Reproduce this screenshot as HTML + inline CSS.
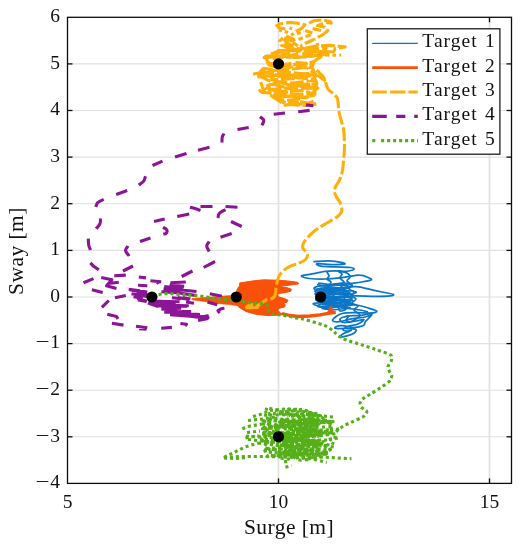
<!DOCTYPE html>
<html><head><meta charset="utf-8"><title>Targets</title>
<style>
html,body{margin:0;padding:0;background:#fff;}
svg{display:block}
text{font-family:"Liberation Serif",serif;fill:#111;}
.tk{font-size:19.5px}
.lb{font-size:21.5px;letter-spacing:0.45px}
.lg{font-size:19.5px;letter-spacing:1.05px;word-spacing:1.3px}
</style></head><body>
<svg width="520" height="550" viewBox="0 0 520 550">
<rect width="520" height="550" fill="#fff"/>

<g stroke="#e1e1e1" stroke-width="1.1" fill="none">
<line x1="278.5" y1="17.3" x2="278.5" y2="483.4" stroke-width="1.7"/>
<line x1="489.5" y1="17.3" x2="489.5" y2="483.4" stroke-width="1.7"/>
<line x1="67.5" y1="436.8" x2="511.5" y2="436.8"/>
<line x1="67.5" y1="390.2" x2="511.5" y2="390.2"/>
<line x1="67.5" y1="343.6" x2="511.5" y2="343.6"/>
<line x1="67.5" y1="297.0" x2="511.5" y2="297.0"/>
<line x1="67.5" y1="250.4" x2="511.5" y2="250.4"/>
<line x1="67.5" y1="203.7" x2="511.5" y2="203.7"/>
<line x1="67.5" y1="157.1" x2="511.5" y2="157.1"/>
<line x1="67.5" y1="110.5" x2="511.5" y2="110.5"/>
<line x1="67.5" y1="63.9" x2="511.5" y2="63.9"/>
</g>
<g fill="none" stroke-linejoin="round">
<path d="M313.4,261.7 C316.0,261.6 324.0,260.6 328.8,260.8 C333.6,261.0 339.6,262.1 342.2,262.7 C344.8,263.3 345.8,263.9 344.2,264.2 C342.6,264.5 337.1,264.7 332.6,264.6 C328.1,264.5 319.1,263.4 317.2,263.7 C315.3,264.0 317.8,265.7 321.0,266.2 C324.2,266.7 331.5,266.7 336.5,266.9 C341.5,267.1 348.0,267.1 350.9,267.5 C353.8,267.9 354.6,268.8 353.8,269.4 C353.0,270.0 349.2,271.1 346.0,271.3 C342.8,271.5 338.0,270.8 334.5,270.8 C331.0,270.8 328.2,270.9 325.0,271.3 C321.8,271.7 318.8,272.7 315.3,273.3 C311.8,273.9 306.1,274.7 303.8,275.2 C301.6,275.7 300.9,275.9 301.8,276.5 C302.8,277.1 305.6,278.1 309.5,278.5 C313.4,278.9 319.6,279.1 325.0,279.0 C330.4,278.9 336.4,278.3 342.2,277.7 C347.9,277.1 355.0,275.1 359.5,275.2 C364.0,275.2 367.3,277.2 369.2,278.0 C371.1,278.8 372.3,279.3 371.0,280.0 C369.7,280.7 365.3,281.4 361.5,282.0 C357.7,282.6 352.2,283.2 348.0,283.8 C343.8,284.4 341.0,285.1 336.5,285.4 C332.0,285.7 324.7,285.4 321.0,285.8 C317.3,286.2 314.9,287.1 314.3,287.7 C313.7,288.3 313.8,289.5 317.2,289.6 C320.6,289.7 328.6,289.0 335.0,288.5 C341.4,288.0 349.7,286.5 355.7,286.7 C361.7,286.9 366.2,288.6 371.0,289.6 C375.8,290.6 380.8,291.7 384.5,292.5 C388.2,293.3 392.2,293.8 393.2,294.4 C394.2,294.9 393.3,295.5 390.3,295.8 C387.3,296.1 380.8,296.3 375.0,296.3 C369.2,296.3 361.5,295.7 355.7,295.8 C349.9,295.9 345.1,297.0 340.0,297.0 C334.9,297.0 329.0,295.8 325.0,296.0 C321.0,296.2 316.8,297.2 316.0,298.0 C315.2,298.8 316.8,300.2 320.0,300.5 C323.2,300.8 329.7,299.6 335.0,299.5 C340.3,299.4 350.3,299.6 352.0,300.0 C353.7,300.4 349.0,301.6 345.0,302.0 C341.0,302.4 333.3,302.2 328.0,302.5 C322.7,302.8 314.6,302.9 313.4,303.5 C312.2,304.1 317.1,306.0 321.0,306.3 C324.9,306.6 330.7,305.6 336.5,305.4 C342.3,305.2 350.2,304.5 355.7,305.0 C361.1,305.5 365.7,307.3 369.2,308.3 C372.7,309.3 376.5,310.4 376.8,311.2 C377.1,312.0 374.5,312.8 371.0,313.0 C367.5,313.2 360.5,312.6 355.7,312.7 C350.9,312.8 345.6,312.8 342.2,313.5 C338.8,314.2 337.1,315.8 335.5,317.0 C333.9,318.2 332.0,320.0 332.6,320.8 C333.2,321.6 336.1,322.0 339.3,321.7 C342.5,321.4 347.5,319.6 351.8,318.8 C356.1,318.0 361.9,317.8 365.3,317.0 C368.7,316.2 371.6,313.7 372.0,314.0 C372.4,314.3 369.1,317.7 368.0,319.0 C366.9,320.3 366.1,320.6 365.3,321.7 C364.5,322.8 365.3,324.6 363.4,325.6 C361.5,326.6 357.3,327.5 353.8,327.5 C350.3,327.5 345.1,325.8 342.2,325.6 C339.3,325.4 337.6,326.0 336.5,326.5 C335.4,327.0 333.9,328.2 335.5,328.5 C337.1,328.8 342.6,328.4 346.0,328.5 C349.4,328.6 354.4,328.6 355.7,329.4 C357.0,330.2 355.4,332.2 353.8,333.3 C352.2,334.4 348.4,335.6 346.0,336.2 C343.6,336.8 339.6,337.6 339.3,337.1 C339.0,336.6 342.1,334.5 344.2,333.3 C346.3,332.1 350.7,330.6 352.0,330.0" stroke="#0A76C8" stroke-width="1.75"/>
<path d="M327.0,272.0 C327.3,272.7 329.0,274.8 329.0,276.0 C329.0,277.2 326.7,278.0 327.0,279.0 C327.3,280.0 330.7,280.8 331.0,282.0 C331.3,283.2 328.7,284.8 329.0,286.0 C329.3,287.2 332.8,288.0 333.0,289.0 C333.2,290.0 329.8,291.0 330.0,292.0 C330.2,293.0 333.8,294.0 334.0,295.0 C334.2,296.0 330.7,297.0 331.0,298.0 C331.3,299.0 335.7,300.0 336.0,301.0 C336.3,302.0 332.7,303.0 333.0,304.0 C333.3,305.0 336.8,305.8 338.0,307.0 C339.2,308.2 338.7,310.7 340.0,311.0 C341.3,311.3 345.5,310.0 346.0,309.0 C346.5,308.0 342.7,306.2 343.0,305.0 C343.3,303.8 347.8,303.2 348.0,302.0 C348.2,300.8 343.8,299.3 344.0,298.0 C344.2,296.7 348.8,295.3 349.0,294.0 C349.2,292.7 346.3,291.3 345.0,290.0 C343.7,288.7 341.2,287.3 341.0,286.0 C340.8,284.7 344.2,283.3 344.0,282.0 C343.8,280.7 340.3,279.3 340.0,278.0 C339.7,276.7 342.3,275.2 342.0,274.0 C341.7,272.8 337.2,271.2 338.0,271.0 C338.8,270.8 345.0,272.0 347.0,273.0 C349.0,274.0 350.0,275.7 350.0,277.0 C350.0,278.3 346.7,279.7 347.0,281.0 C347.3,282.3 351.7,283.7 352.0,285.0 C352.3,286.3 348.7,287.8 349.0,289.0 C349.3,290.2 353.7,290.8 354.0,292.0 C354.3,293.2 350.7,294.8 351.0,296.0 C351.3,297.2 355.8,297.8 356.0,299.0 C356.2,300.2 351.7,301.8 352.0,303.0 C352.3,304.2 357.7,304.8 358.0,306.0 C358.3,307.2 353.7,308.5 354.0,310.0 C354.3,311.5 359.7,313.5 360.0,315.0 C360.3,316.5 357.7,317.8 356.0,319.0 C354.3,320.2 351.7,321.8 350.0,322.0 C348.3,322.2 346.2,321.0 346.0,320.0 C345.8,319.0 349.3,316.5 349.0,316.0 C348.7,315.5 344.8,316.8 344.0,317.0" stroke="#0A76C8" stroke-width="1.75"/>
<path d="M316.0,292.0 C317.0,292.2 319.7,293.4 322.0,293.5 C324.3,293.6 327.0,292.4 330.0,292.5 C333.0,292.6 336.7,293.9 340.0,294.0 C343.3,294.1 349.7,293.5 350.0,293.0 C350.3,292.5 345.3,291.4 342.0,291.0 C338.7,290.6 333.7,290.5 330.0,290.5 C326.3,290.5 322.5,290.4 320.0,291.0 C317.5,291.6 314.7,293.2 315.0,294.0 C315.3,294.8 318.8,295.4 322.0,295.5 C325.2,295.6 330.0,294.4 334.0,294.5 C338.0,294.6 345.3,295.4 346.0,296.0 C346.7,296.6 341.3,297.8 338.0,298.0 C334.7,298.2 329.3,297.3 326.0,297.5 C322.7,297.7 318.3,298.4 318.0,299.0 C317.7,299.6 321.3,300.8 324.0,301.0 C326.7,301.2 330.7,299.9 334.0,300.0 C337.3,300.1 343.0,300.9 344.0,301.5 C345.0,302.1 342.3,303.2 340.0,303.5 C337.7,303.8 333.0,302.8 330.0,303.0 C327.0,303.2 323.3,304.2 322.0,304.5" stroke="#0A76C8" stroke-width="1.75"/>
<path d="M318.0,283.0 C320.0,283.2 325.5,284.5 330.0,284.5 C334.5,284.5 341.3,282.8 345.0,283.0 C348.7,283.2 352.8,285.2 352.0,286.0 C351.2,286.8 344.3,287.8 340.0,288.0 C335.7,288.2 330.0,287.2 326.0,287.5 C322.0,287.8 315.7,289.3 316.0,290.0 C316.3,290.7 323.5,291.4 328.0,291.5 C332.5,291.6 338.3,290.4 343.0,290.5 C347.7,290.6 355.0,291.3 356.0,292.0 C357.0,292.7 352.8,294.2 349.0,294.5 C345.2,294.8 338.0,293.4 333.0,293.5 C328.0,293.6 319.7,294.3 319.0,295.0 C318.3,295.7 325.2,297.2 329.0,297.5 C332.8,297.8 338.2,296.3 342.0,296.5 C345.8,296.7 351.8,297.8 352.0,298.5 C352.2,299.2 346.7,300.2 343.0,300.5 C339.3,300.8 334.0,299.8 330.0,300.0 C326.0,300.2 318.8,301.4 319.0,302.0 C319.2,302.6 326.7,303.4 331.0,303.5 C335.3,303.6 341.3,302.3 345.0,302.5 C348.7,302.7 353.5,303.8 353.0,304.5 C352.5,305.2 345.8,306.2 342.0,306.5 C338.2,306.8 333.3,305.8 330.0,306.0 C326.7,306.2 321.3,307.4 322.0,308.0 C322.7,308.6 329.7,309.4 334.0,309.5 C338.3,309.6 343.7,308.4 348.0,308.5 C352.3,308.6 356.7,309.4 360.0,310.0 C363.3,310.6 366.7,311.7 368.0,312.0" stroke="#0A76C8" stroke-width="1.75"/>
<path d="M372.0,313.0 C370.0,313.4 364.0,315.0 360.0,315.5 C356.0,316.0 351.3,315.4 348.0,316.0 C344.7,316.6 340.7,317.9 340.0,319.0 C339.3,320.1 341.3,322.2 344.0,322.5 C346.7,322.8 352.7,321.5 356.0,321.0 C359.3,320.5 363.7,319.0 364.0,319.5 C364.3,320.0 360.7,322.8 358.0,324.0 C355.3,325.2 350.5,325.5 348.0,326.5 C345.5,327.5 342.7,329.2 343.0,330.0 C343.3,330.8 348.8,331.2 350.0,331.5" stroke="#0A76C8" stroke-width="1.75"/>
<path d="M317.0,284.5 C318.5,284.8 322.5,285.9 326.0,286.0 C329.5,286.1 334.0,284.9 338.0,285.0 C342.0,285.1 349.0,285.8 350.0,286.5 C351.0,287.2 347.0,288.5 344.0,289.0 C341.0,289.5 336.0,289.6 332.0,289.5 C328.0,289.4 322.8,288.2 320.0,288.5 C317.2,288.8 314.3,290.8 315.0,291.5 C315.7,292.2 320.3,292.9 324.0,293.0 C327.7,293.1 333.0,291.9 337.0,292.0 C341.0,292.1 345.3,292.8 348.0,293.5 C350.7,294.2 354.0,295.3 353.0,296.0 C352.0,296.7 345.8,297.1 342.0,297.5 C338.2,297.9 333.7,298.6 330.0,298.5 C326.3,298.4 322.3,296.8 320.0,297.0 C317.7,297.2 315.0,299.2 316.0,300.0 C317.0,300.8 322.2,301.4 326.0,301.5 C329.8,301.6 335.0,300.4 339.0,300.5 C343.0,300.6 348.8,301.3 350.0,302.0 C351.2,302.7 348.7,304.0 346.0,304.5 C343.3,305.0 338.0,305.1 334.0,305.0 C330.0,304.9 324.7,303.8 322.0,304.0 C319.3,304.2 317.0,305.9 318.0,306.5 C319.0,307.1 324.3,307.4 328.0,307.5 C331.7,307.6 336.2,306.9 340.0,307.0 C343.8,307.1 349.2,307.8 351.0,308.0" stroke="#0A76C8" stroke-width="1.75"/>
<path d="M335.8,312.4 L328.0,313.4 L320.0,314.8 L310.0,316.0 L298.0,316.5 L290.0,315.5 L282.0,313.5" stroke="#F9500A" stroke-width="3.3"/>
<path d="M327.3,313.2 L330.9,306.6 L333.8,312.6Z" fill="#F9500A" stroke="#F9500A" stroke-width="1.2"/>
<path d="M236.5,297.0 L236.8,290.6 L237.5,288.5 L239.6,285.8 L239.6,283.0 L252.8,280.9 L263.8,279.8 L277.7,280.2 L287.4,280.9 L297.8,282.3 L298.5,284.0 L290.2,285.1 L279.0,286.2 L287.4,287.8 L291.3,289.2 L290.8,291.3 L284.6,292.7 L279.1,293.4 L277.5,295.0 L278.4,296.8 L284.6,298.6 L288.1,300.3 L286.7,302.4 L283.2,303.4 L285.3,304.7 L284.6,307.0 L279.1,308.3 L277.7,310.3 L280.5,313.0 L284.0,314.5 L276.0,315.3 L266.6,315.5 L255.5,314.2 L245.8,311.4 L238.9,307.2 L236.2,303.8 L235.5,300.0Z" fill="#F9500A" stroke="#F9500A" stroke-width="1.0"/>
<path d="M191.9,298.6 L208,297.3 L219.6,296.2 L231.2,295.6 L240,294 L240,306 L231.2,304.8 L219.6,303.7 L208,301.9 L191.9,299.8Z" fill="#F9500A" stroke="#F9500A" stroke-width="0.6"/>
<path d="M246.0,307.7 C247.9,307.6 256.8,307.9 257.6,307.4 C258.4,306.9 252.8,304.6 251.0,304.6 C249.2,304.6 246.3,307.0 246.5,307.3 C246.7,307.6 250.0,307.0 252.0,306.6 C254.0,306.2 256.7,305.8 258.3,305.2 C259.9,304.6 260.7,303.8 261.8,303.0 C262.9,302.2 264.1,300.9 265.2,300.3 C266.3,299.7 267.3,300.1 268.7,299.6 C270.1,299.1 272.4,298.5 273.5,297.5 C274.6,296.5 275.2,295.0 275.6,293.4 C276.0,291.8 275.7,289.8 276.0,287.8 C276.3,285.8 276.8,283.4 277.3,281.4 C277.8,279.4 278.1,277.7 279.1,275.9 C280.2,274.1 281.6,272.2 283.6,270.5 C285.6,268.8 288.3,267.1 290.9,265.9 C293.5,264.7 296.7,264.3 299.1,263.2 C301.5,262.1 304.1,260.9 305.5,259.5 C306.9,258.1 307.6,256.5 307.5,255.0 C307.4,253.5 305.6,251.7 304.8,250.5 C304.0,249.3 303.0,248.7 302.7,247.7 C302.4,246.7 302.7,245.6 303.0,244.5 C303.3,243.4 303.2,243.1 304.5,241.4 C305.8,239.7 308.5,236.4 310.9,234.1 C313.3,231.8 316.2,229.7 319.1,227.7 C322.0,225.7 325.0,224.3 328.2,222.3 C331.4,220.3 336.0,217.6 338.2,215.9 C340.4,214.2 340.7,213.2 341.3,212.0 C341.9,210.8 342.0,210.2 341.8,208.6 C341.6,207.0 340.9,204.2 340.0,202.3 C339.1,200.4 337.4,198.7 336.5,197.0 C335.6,195.3 334.8,193.7 334.5,192.3 C334.2,190.9 334.6,189.7 334.9,188.5 C335.2,187.3 335.6,186.4 336.4,185.0 C337.2,183.6 338.6,181.9 339.5,180.0 C340.4,178.1 341.2,175.7 341.8,173.5 C342.4,171.3 342.7,169.2 343.0,167.0 C343.3,164.8 343.3,162.7 343.5,160.4 C343.7,158.1 344.1,155.5 344.3,153.0 C344.5,150.5 344.5,148.3 344.5,145.6 C344.5,142.9 344.4,139.7 344.2,137.0 C344.0,134.3 343.8,131.4 343.5,129.3 C343.2,127.2 342.9,126.5 342.3,124.4 C341.8,122.4 340.8,119.4 340.2,117.0 C339.6,114.6 338.9,112.0 338.6,110.0 C338.3,108.0 338.4,106.6 338.3,105.0 C338.2,103.4 338.0,101.7 337.8,100.5 C337.6,99.3 337.8,98.8 337.0,97.6 C336.2,96.4 334.4,94.9 333.0,93.5 C331.6,92.1 329.3,90.6 328.3,89.4 C327.3,88.2 327.3,87.6 326.8,86.2 C326.3,84.8 325.8,82.6 325.3,81.1 C324.8,79.6 324.5,78.6 323.6,77.3 C322.7,76.0 321.2,74.7 320.0,73.5 C318.8,72.3 317.2,70.8 316.6,70.3" stroke="#FFAF0A" stroke-width="3.1" stroke-dasharray="13.8 2.9" stroke-dashoffset="0"/>
<path d="M275.6,26.4 L279.7,24.0 L289.5,22.4 L297.7,23.2 L305.0,24.8 L301.8,28.1 L295.2,32.2 L291.2,35.4" stroke="#FFAF0A" stroke-width="3.1" stroke-dasharray="13.8 2.9" stroke-dashoffset="5.5"/>
<path d="M277.3,27.3 L285.4,28.9" stroke="#FFAF0A" stroke-width="3.1" stroke-dasharray="13.8 2.9" stroke-dashoffset="2.6"/>
<path d="M289.5,28.1 L295.2,29.7" stroke="#FFAF0A" stroke-width="3.1" stroke-dasharray="13.8 2.9" stroke-dashoffset="11.1"/>
<path d="M305.0,30.5 L312.4,33.0" stroke="#FFAF0A" stroke-width="3.1" stroke-dasharray="13.8 2.9" stroke-dashoffset="1.2"/>
<path d="M298.5,39.5 L310.8,34.6" stroke="#FFAF0A" stroke-width="3.1" stroke-dasharray="13.8 2.9" stroke-dashoffset="9.1"/>
<path d="M289.5,41.2 L295.2,39.5" stroke="#FFAF0A" stroke-width="3.1" stroke-dasharray="13.8 2.9" stroke-dashoffset="6.2"/>
<path d="M309.1,23.2 L314.0,20.7 L322.2,19.9 L330.4,21.5 L331.2,23.2 L326.3,22.4 L317.3,25.6 L324.7,27.3 L327.9,30.5 L323.0,34.6 L314.0,39.5" stroke="#FFAF0A" stroke-width="3.1" stroke-dasharray="13.8 2.9" stroke-dashoffset="1.0"/>
<path d="M283.0,37.9 L279.7,41.2 L281.3,45.2 L286.2,46.9 L289.5,50.1" stroke="#FFAF0A" stroke-width="3.1" stroke-dasharray="13.8 2.9" stroke-dashoffset="8.6"/>
<path d="M283.8,39.5 L287.9,43.6 L293.6,46.1" stroke="#FFAF0A" stroke-width="3.1" stroke-dasharray="13.8 2.9" stroke-dashoffset="0.6"/>
<path d="M296.0,52.0 L300.1,50.1 L307.5,47.7 L315.7,46.1 L330.4,45.4 L345.1,46.9 L335.3,48.5 L333.6,51.8 L322.2,51.8 L318.9,54.2 L330.4,55.2 L336.0,55.2" stroke="#FFAF0A" stroke-width="3.1" stroke-dasharray="13.8 2.9" stroke-dashoffset="7.4"/>
<path d="M317.3,42.8 L317.6,46.0" stroke="#FFAF0A" stroke-width="3.1" stroke-dasharray="13.8 2.9" stroke-dashoffset="1.2"/>
<path d="M339.4,55.0 L341.2,55.0" stroke="#FFAF0A" stroke-width="3.1" stroke-dasharray="13.8 2.9" stroke-dashoffset="1.5"/>
<path d="M284.0,38.0 L292.0,42.0 L298.0,46.0" stroke="#FFAF0A" stroke-width="3.1" stroke-dasharray="13.8 2.9" stroke-dashoffset="7.2"/>
<path d="M282.0,42.5 L290.0,47.0 L296.0,50.0" stroke="#FFAF0A" stroke-width="3.1" stroke-dasharray="13.8 2.9" stroke-dashoffset="14.1"/>
<path d="M286.0,36.0 L294.0,39.5" stroke="#FFAF0A" stroke-width="3.1" stroke-dasharray="13.8 2.9" stroke-dashoffset="2.1"/>
<path d="M314.0,39.5 L306.0,43.0 L300.0,46.5" stroke="#FFAF0A" stroke-width="3.1" stroke-dasharray="13.8 2.9" stroke-dashoffset="3.8"/>
<path d="M279.0,30.0 L288.0,32.5" stroke="#FFAF0A" stroke-width="3.1" stroke-dasharray="13.8 2.9" stroke-dashoffset="10.7"/>
<path d="M312.0,28.5 L321.0,30.5" stroke="#FFAF0A" stroke-width="3.1" stroke-dasharray="13.8 2.9" stroke-dashoffset="16.1"/>
<path d="M297.0,33.5 L304.0,32.0" stroke="#FFAF0A" stroke-width="3.1" stroke-dasharray="13.8 2.9" stroke-dashoffset="9.8"/>
<path d="M265.0,58.3 L273.2,54.2 L281.3,51.8 L289.5,50.1" stroke="#FFAF0A" stroke-width="3.1" stroke-dasharray="13.8 2.9" stroke-dashoffset="6.7"/>
<path d="M264.2,58.4 L275.3,55.4 L290.0,53.0" stroke="#FFAF0A" stroke-width="3.1" stroke-dasharray="13.8 2.9" stroke-dashoffset="16.6"/>
<path d="M253.1,74.2 L265.2,71.2 L280.0,70.0" stroke="#FFAF0A" stroke-width="3.1" stroke-dasharray="13.8 2.9" stroke-dashoffset="0.8"/>
<path d="M257.1,88.3 L262.2,92.4 L273.3,93.4 L290.0,92.0" stroke="#FFAF0A" stroke-width="3.1" stroke-dasharray="13.8 2.9" stroke-dashoffset="14.6"/>
<path d="M275.3,98.4 L285.4,100.4 L300.0,99.0" stroke="#FFAF0A" stroke-width="3.1" stroke-dasharray="13.8 2.9" stroke-dashoffset="4.9"/>
<path d="M288.4,104.5 L305.6,105.5 L317.7,103.5 L312.5,105.0" stroke="#FFAF0A" stroke-width="3.1" stroke-dasharray="13.8 2.9" stroke-dashoffset="2.5"/>
<path d="M317.7,75.2 L325.8,81.3" stroke="#FFAF0A" stroke-width="3.1" stroke-dasharray="13.8 2.9" stroke-dashoffset="2.0"/>
<path d="M313.7,85.3 L317.7,86.3" stroke="#FFAF0A" stroke-width="3.1" stroke-dasharray="13.8 2.9" stroke-dashoffset="5.2"/>
<path d="M277.1,51.0 L301.6,49.2 L326.0,48.1 L321.1,54.6 L302.6,56.9 L284.2,57.3 L265.7,56.4 L267.9,63.2 L279.4,64.4 L290.9,64.7 L302.3,64.2 L313.8,61.7 L312.1,67.5 L300.0,68.0 L287.8,70.0 L275.7,69.9 L263.5,68.4 L259.0,72.6 L287.8,72.2 L316.6,75.2 L313.1,79.2 L294.8,77.5 L276.4,76.5 L258.0,75.4 L270.8,81.6 L282.0,81.9 L293.3,83.0 L304.5,81.5 L315.7,80.3 L317.7,87.6 L306.5,87.1 L295.4,85.4 L284.2,87.0 L273.0,84.2 L260.8,91.8 L279.8,88.7 L298.8,88.3 L317.8,88.1 L310.8,94.1 L297.3,94.2 L283.7,95.2 L270.2,94.9 L285.1,105.1 L292.8,104.1 L300.6,101.9 L308.3,103.0 L316.1,100.5" stroke="#FFAF0A" stroke-width="3.1" stroke-dasharray="13.8 2.9" stroke-dashoffset="5.2"/>
<path d="M327.3,51.4 L315.2,51.9 L303.2,51.1 L291.1,50.7 L279.0,50.6 L264.1,57.5 L279.0,56.0 L293.9,57.4 L308.8,56.6 L323.7,54.7 L310.3,64.0 L289.5,64.4 L268.6,64.8 L274.8,66.7 L288.7,67.4 L302.6,65.2 L315.9,74.3 L293.2,76.0 L270.4,74.3 L271.9,79.9 L292.5,78.7 L313.2,75.3 L316.9,83.6 L304.5,84.4 L292.2,85.6 L279.9,82.5 L267.6,85.2 L271.8,90.9 L288.2,91.6 L304.6,90.3 L314.2,95.2 L303.9,97.4 L293.7,96.5 L283.4,96.1 L273.2,97.0 L285.9,102.7 L300.9,104.1 L316.0,104.3" stroke="#FFAF0A" stroke-width="3.1" stroke-dasharray="13.8 2.9" stroke-dashoffset="6.9"/>
<path d="M284.7,46.7 L296.5,48.8 L308.3,48.3 L320.2,51.5 L327.1,54.1 L299.4,53.9 L271.8,58.9 L268.5,63.7 L282.5,65.0 L296.5,62.5 L310.5,63.7 L314.6,72.7 L300.5,74.2 L286.4,75.7 L272.2,75.5 L258.1,74.0 L263.5,90.4 L288.3,87.7 L313.1,84.2 L315.0,93.8 L305.6,97.7 L296.3,96.2 L287.0,96.3 L277.7,97.6 L284.6,103.9 L292.8,101.2 L301.1,103.5 L309.3,104.1" stroke="#FFAF0A" stroke-width="3.1" stroke-dasharray="11 4" stroke-dashoffset="2.6"/>
<path d="M306.0,104.9 L313.3,105.7 M309.6,110.4 L298.2,111.7 M285.0,113.0 L273.7,114.3 M260.0,116.8 C260.6,117.2 262.9,118.5 263.5,119.5 C264.1,120.5 263.6,121.5 263.3,122.5 C263.0,123.5 262.1,124.8 261.8,125.3 M248.7,127.5 L237.5,129.6 M224.0,133.5 C223.7,134.2 222.5,136.0 222.2,137.5 C221.9,139.0 222.0,141.7 222.0,142.5 M209.5,147.2 L198.0,150.3 M186.5,153.6 L175.0,157.0 M162.5,161.2 L152.5,165.5 M145.5,176.2 C145.2,177.0 144.8,179.7 143.7,181.2 C142.6,182.7 139.5,184.4 138.7,185.0 M127.2,190.5 L116.2,194.5 M103.7,199.4 C102.7,199.9 99.0,201.3 97.7,202.6 C96.4,203.9 96.1,206.3 95.8,207.0 M100.5,218.5 C100.4,219.4 100.7,222.0 100.0,223.7 C99.3,225.4 96.8,228.0 96.2,228.8 M88.3,238.7 C88.4,239.8 88.3,243.1 88.7,245.0 C89.1,246.9 90.2,249.2 90.5,250.0 M90.4,262.8 C91.0,263.4 92.6,265.4 94.0,266.5 C95.4,267.6 98.0,269.2 98.8,269.7 M237.5,207.2 L225.5,206.5 M212.5,206.5 L200.5,206.5 M200.5,210.5 C199.6,210.2 196.8,209.0 195.0,208.5 C193.2,208.0 190.8,207.5 190.0,207.3 M189.2,214.0 L177.2,216.5 M164.7,218.9 L154.0,221.5 M163.0,227.3 C163.6,227.7 166.1,228.7 166.7,229.7 C167.2,230.7 166.9,232.6 166.3,233.3 C165.7,234.1 163.8,234.0 163.3,234.2 M150.5,238.0 L140.0,241.5 M128.0,246.0 C127.6,246.8 125.3,248.8 125.5,250.5 C125.7,252.2 128.6,255.1 129.2,256.0 M133.0,266.0 L123.0,271.0 M225.5,209.7 C224.4,210.3 220.4,212.1 219.2,213.5 C217.9,214.9 218.2,217.2 218.0,218.0 M231.0,221.5 L241.7,226.5 M231.7,233.5 L220.5,237.2 M209.2,241.5 C208.8,242.2 206.7,244.3 206.7,246.0 C206.7,247.7 208.8,250.6 209.2,251.5 M214.2,262.2 L204.2,267.2 M192.5,271.0 L181.7,276.5 M215.0,261.3 L203.7,267.5" stroke="#8C1496" stroke-width="3.1"/>
<path d="M83.5,282.8 L93.5,278.6 M91.9,289.7 L102.7,292.5 M101.2,277.4 L111.9,279.7 L106.5,285.8 L116.5,288.5 M108.1,283.5 L118.8,282.3 M114.2,275.8 L125.8,275.1 M115.0,297.7 L125.8,295.5 M101.9,307.4 L108.8,300.5 M107.3,314.3 L116.5,316.6 L118.0,318.9 M111.9,323.2 L123.5,325.1 M136.0,326.3 L147.3,327.8 M139.0,328.8 L146.5,329.2 M161.2,328.2 L171.9,327.4 M180.4,323.5 L186.5,324.3 L185.0,326.0 M198.1,320.5 L208.1,318.6 M138.8,277.0 L146.0,277.9 M150.4,280.8 L161.2,281.7 M157.0,281.5 L158.5,284.0 M138.1,285.3 L147.3,285.8 M129.6,289.7 L141.2,292.0 M135.0,290.5 L147.3,292.0 M133.5,296.6 L142.7,298.2 M136.5,293.5 L147.5,295.0 M138.0,300.0 L146.5,301.5 M170.4,282.8 L185.8,282.0 M169.6,285.1 L184.2,286.3 M163.5,288.9 L179.6,290.5 M179.6,289.7 L196.5,291.5 M171.9,297.7 L181.2,298.6 M182.7,297.4 L190.4,298.9 M156.5,301.2 L179.6,301.7 M158.1,305.1 L188.8,305.8 M160.0,303.0 L175.0,303.6 M162.7,308.9 L181.2,308.2 M164.2,312.0 L190.4,311.5 M173.5,314.3 L196.5,315.8 M187.3,315.8 L208.8,317.1 M150.0,300.0 L160.0,303.0 M148.0,303.0 L158.0,306.5 M209.8,293.8 L221.9,296.2 M207.5,301.9 L217.3,304.8 M219.8,313.0 L217.9,310.6 L221.0,308.8 L224.4,308.2 M190.0,316.2 L200.0,317.5 L208.7,315.5 M131.5,293.7 L146.9,296.5 M137.3,298.5 L146.9,301.3 M128.7,289.2 L140.0,290.8 M148.8,301.3 L158.5,306.2 M158.5,301.3 L175.8,302.7 M177.7,297.5 L189.2,299.4 M157.5,305.8 L187.3,306.2 M161.3,309.0 L177.7,310.4 M164.2,312.3 L191.2,311.9 M170.0,314.8 L196.9,316.7 M185.4,315.8 L209.4,317.7 M180.0,313.0 L200.0,314.6 M186.0,302.0 L194.0,303.2 M161.3,291.7 L177.7,292.7 L196.9,295.6 M164.2,286.5 L183.5,288.8 M150.0,298.0 L156.0,300.5" stroke="#8C1496" stroke-width="3.1" />
<path d="M158.5,294.6 C159.3,294.5 161.9,294.0 163.5,293.8 C165.1,293.6 166.3,293.6 168.0,293.6 C169.7,293.6 171.7,293.9 173.5,294.0 C175.3,294.1 177.0,294.3 178.8,294.4 C180.6,294.5 182.4,294.6 184.2,294.7 C186.0,294.8 187.8,295.0 189.6,295.1 C191.4,295.2 193.1,295.3 195.0,295.5 C196.9,295.7 199.1,295.9 201.2,296.2 C203.2,296.5 205.2,296.8 207.3,297.1 C209.4,297.4 210.6,297.8 213.5,298.2 C216.4,298.6 221.1,299.0 225.0,299.4 C228.9,299.8 234.0,300.2 237.0,300.6 C240.0,301.0 241.0,301.4 243.1,301.7 C245.2,302.0 247.2,302.5 249.3,302.7 C251.4,302.9 253.4,302.9 255.5,303.1 C257.6,303.3 259.8,303.5 261.8,303.8 C263.8,304.1 266.2,304.6 267.3,305.2 C268.4,305.8 268.2,306.6 268.3,307.3 C268.4,308.0 267.6,308.7 267.9,309.5 C268.2,310.3 269.2,311.4 270.0,312.2 C270.8,313.0 271.2,313.8 272.5,314.2 C273.8,314.6 275.8,314.3 277.7,314.5 C279.6,314.7 281.8,315.1 283.9,315.5 C286.0,315.9 288.1,316.2 290.2,316.6 C292.3,317.0 294.5,317.6 296.4,318.0 C298.3,318.4 299.6,318.3 301.8,318.8 C304.0,319.3 306.6,320.0 309.5,320.8 C312.4,321.6 316.3,322.8 319.2,323.7 C322.1,324.6 324.4,325.2 326.8,326.5 C329.2,327.8 331.7,329.8 333.6,331.3 C335.5,332.8 335.9,334.2 338.2,335.7 C340.4,337.2 343.3,338.8 347.1,340.3 C350.9,341.8 356.2,343.0 361.1,344.6 C366.0,346.2 371.5,348.0 376.4,349.7 C381.3,351.4 387.9,353.4 390.4,354.8 C392.9,356.2 391.5,356.9 391.6,358.0 C391.7,359.1 391.6,360.0 391.2,361.1 C390.8,362.2 389.6,363.4 389.0,364.5 C388.4,365.6 387.8,366.3 387.9,367.5 C388.0,368.7 388.9,370.2 389.5,371.5 C390.1,372.8 391.4,374.0 391.7,375.2 C391.9,376.4 391.4,377.4 391.0,378.5 C390.6,379.6 391.0,379.9 389.2,381.5 C387.4,383.1 383.5,385.8 380.3,387.9 C377.1,390.0 372.8,392.6 370.1,394.3 C367.4,396.0 365.5,396.9 364.0,398.0 C362.5,399.1 361.8,399.6 361.1,400.6 C360.4,401.6 360.0,402.9 360.0,404.0 C360.0,405.1 360.4,406.1 361.1,407.0 C361.9,407.9 363.6,408.7 364.5,409.5 C365.4,410.3 366.6,410.7 366.8,411.6 C367.0,412.5 366.2,413.9 365.5,414.8 C364.8,415.7 364.6,416.0 362.4,417.2 C360.2,418.4 355.4,420.3 352.2,421.8 C349.0,423.3 345.6,424.8 343.3,426.1 C341.0,427.5 339.8,428.6 338.2,429.9 C336.6,431.2 334.7,433.3 334.0,434.0" stroke="#55AF19" stroke-width="3.1" stroke-dasharray="3.1 2.9"/>
<path d="M223.8,457.5 L240.0,456.5 L263.8,456.5 L290.0,457.0 L320.0,457.0 L351.5,458.7" stroke="#55AF19" stroke-width="3.1" stroke-dasharray="3.1 2.9"/>
<path d="M224.0,457.3 L235.0,452.0 L245.0,447.0 L258.0,443.0" stroke="#55AF19" stroke-width="3.1" stroke-dasharray="3.1 2.9"/>
<path d="M253.0,416.5 L262.0,414.0 L270.0,410.5 L285.0,409.0 L300.0,409.5" stroke="#55AF19" stroke-width="3.1" stroke-dasharray="3.1 2.9"/>
<path d="M242.3,428.8 L250.0,426.0 L262.0,424.0" stroke="#55AF19" stroke-width="3.1" stroke-dasharray="3.1 2.9"/>
<path d="M245.4,438.0 L256.0,436.0 L268.0,436.5" stroke="#55AF19" stroke-width="3.1" stroke-dasharray="3.1 2.9"/>
<path d="M285.4,467.3 L291.5,465.8" stroke="#55AF19" stroke-width="3.1" stroke-dasharray="3.1 2.9"/>
<path d="M284.0,462.0 L289.0,461.0" stroke="#55AF19" stroke-width="3.1" stroke-dasharray="3.1 2.9"/>
<path d="M300.0,414.0 L318.0,415.5 L333.0,417.0" stroke="#55AF19" stroke-width="3.1" stroke-dasharray="3.1 2.9"/>
<path d="M339.0,428.8 L330.0,431.0" stroke="#55AF19" stroke-width="3.1" stroke-dasharray="3.1 2.9"/>
<path d="M337.7,438.0 L328.0,440.0" stroke="#55AF19" stroke-width="3.1" stroke-dasharray="3.1 2.9"/>
<path d="M248.0,420.5 L262.0,419.0 L275.0,417.0" stroke="#55AF19" stroke-width="3.1" stroke-dasharray="3.1 2.9"/>
<path d="M247.0,432.5 L260.0,431.0" stroke="#55AF19" stroke-width="3.1" stroke-dasharray="3.1 2.9"/>
<path d="M246.0,436.0 L260.0,437.0 L276.0,438.0" stroke="#55AF19" stroke-width="3.1" stroke-dasharray="3.1 2.9"/>
<path d="M248.0,439.5 L262.0,441.0 L277.0,442.0" stroke="#55AF19" stroke-width="3.1" stroke-dasharray="3.1 2.9"/>
<path d="M258.0,443.0 L270.0,444.5 L280.0,446.0" stroke="#55AF19" stroke-width="3.1" stroke-dasharray="3.1 2.9"/>
<path d="M262.0,434.0 L276.0,435.0" stroke="#55AF19" stroke-width="3.1" stroke-dasharray="3.1 2.9"/>
<path d="M224.0,458.0 L236.0,458.5 L248.0,457.5" stroke="#55AF19" stroke-width="3.1" stroke-dasharray="3.1 2.9"/>
<path d="M284.9,410.1 L290.8,408.8 L296.7,410.1 L302.6,409.2 L323.2,418.1 L305.8,419.8 L288.5,420.4 L271.1,417.7 L267.5,426.6 L287.6,424.6 L307.7,419.5 L327.9,420.7 L333.0,432.3 L316.8,431.0 L300.6,430.2 L284.5,427.3 L268.3,427.1 L285.9,434.2 L300.4,434.3 L314.8,432.7 L329.3,433.0 L330.7,439.9 L309.0,440.1 L287.4,442.1 L265.7,442.3 L281.8,445.4 L306.2,449.3 L330.6,449.5 L317.8,458.5 L306.8,458.7 L295.8,454.3 L284.7,456.3 L273.7,455.9" stroke="#55AF19" stroke-width="3.1" stroke-dasharray="3.1 2.9" stroke-dashoffset="9.6"/>
<path d="M269.2,415.1 L284.8,414.7 L300.4,413.9 L316.1,413.4 L310.0,419.9 L298.2,420.7 L286.4,419.4 L274.6,420.7 L262.8,420.7 L282.4,426.6 L293.7,423.6 L305.0,424.3 L316.3,420.5 L327.6,420.3 L332.6,426.6 L318.6,427.2 L304.6,428.5 L290.6,429.6 L276.6,427.8 L279.5,434.3 L298.4,435.7 L317.4,436.1 L336.3,433.6 L332.1,445.5 L296.8,439.2 L261.5,431.3 L270.7,436.3 L286.5,438.5 L302.3,440.6 L318.1,444.3 L333.9,447.0 L325.6,451.6 L310.2,450.7 L294.8,449.5 L279.4,450.8 L264.0,447.7 L266.8,456.3 L295.8,453.9 L324.7,452.5 L306.6,459.8 L300.0,460.2 L293.4,457.0 L286.9,459.6 L280.3,458.0" stroke="#55AF19" stroke-width="3.1" stroke-dasharray="3.0 3.4" stroke-dashoffset="6.4"/>
<path d="M274.9,410.4 L282.7,412.2 L290.6,410.8 L298.4,412.0 L306.3,411.4 L320.5,415.8 L303.5,415.9 L286.5,414.2 L269.4,413.5 L270.4,420.6 L291.3,421.5 L312.3,421.3 L333.2,421.6 L305.6,423.6 L284.3,426.7 L263.1,423.9 L268.3,433.1 L287.8,433.5 L307.2,431.2 L326.6,431.3 L306.2,436.3 L286.6,433.2 L267.0,432.4 L263.6,442.7 L286.9,441.0 L310.2,444.8 L328.5,445.9 L296.2,446.4 L263.9,448.8 L268.8,452.2 L282.9,453.0 L297.0,451.1 L311.2,449.8 L326.0,454.3 L306.4,455.2 L286.7,455.1 L267.1,455.7" stroke="#55AF19" stroke-width="3.1" stroke-dasharray="3.1 2.7" stroke-dashoffset="7.2"/>
<path d="M277.1,413.6 L291.8,410.9 L306.4,410.6 L320.3,425.8 L293.4,414.8 L266.6,407.4 L263.9,428.0 L288.5,425.0 L313.1,419.6 L332.8,421.8 L297.5,425.2 L262.3,428.8 L283.4,433.3 L299.2,434.2 L315.0,430.1 L330.9,429.8 L331.4,433.8 L308.1,435.3 L284.7,440.4 L261.4,438.8 L269.7,449.8 L283.3,448.9 L297.0,444.2 L310.6,444.1 L324.2,441.6 L326.7,453.6 L314.7,454.4 L302.6,454.2 L290.6,451.4 L276.7,452.4 L293.4,457.9 L310.0,458.4 L326.7,462.5" stroke="#55AF19" stroke-width="3.1" stroke-dasharray="3.0 3.1" stroke-dashoffset="2.5"/>
<path d="M288.7,415.6 L294.7,415.4 L300.7,417.7 L306.7,421.4 L315.5,426.8 L299.4,422.6 L283.4,420.4 L279.5,422.1 L298.7,426.3 L317.8,432.6 L312.0,429.3 L301.6,428.8 L291.1,431.7 L280.6,433.5 L280.9,439.2 L300.5,438.2 L320.0,433.5 L310.4,437.2 L300.9,437.4 L291.3,442.6 L281.8,440.1 L289.1,443.0 L303.2,446.2 L317.4,446.1 L314.9,443.6 L298.5,446.5 L282.0,452.7 L288.0,454.4 L301.4,454.3 L314.8,451.2" stroke="#55AF19" stroke-width="3.1" stroke-dasharray="3.3 2.2" stroke-dashoffset="7.3"/>
<path d="M287.4,416.4 L297.1,416.1 L306.7,416.4 L312.5,422.3 L302.6,423.4 L292.7,425.1 L282.8,422.0 L279.1,426.5 L289.3,427.8 L299.4,428.1 L309.6,426.1 L311.4,434.0 L304.9,433.9 L298.4,431.3 L291.9,431.4 L285.4,432.1 L282.1,438.6 L291.4,437.7 L300.7,437.5 L309.9,436.0 L319.2,436.1 L318.9,440.6 L308.5,440.6 L298.0,439.0 L287.6,441.4 L282.4,443.3 L300.4,444.5 L318.3,444.5 L311.7,450.4 L304.6,448.7 L297.5,450.5 L290.4,450.1 L283.3,452.4 L291.9,452.4 L297.0,454.5 L302.0,454.3 L307.1,453.8" stroke="#55AF19" stroke-width="3.1" stroke-dasharray="3.0 2.8" stroke-dashoffset="2.2"/>
<path d="M284.2,421.0 L293.6,422.3 L303.1,419.2 L312.5,419.1 L318.2,426.2 L305.3,426.8 L292.5,422.3 L279.6,422.1 L282.0,424.1 L296.5,429.6 L311.0,435.4 L320.3,431.2 L310.0,430.7 L299.7,436.0 L289.3,435.9 L279.0,439.7 L278.9,438.7 L292.4,439.8 L305.9,439.7 L319.4,442.8 L316.5,446.4 L304.6,446.1 L292.7,444.3 L280.8,445.6 L282.6,444.5 L293.4,447.2 L304.1,449.3 L314.9,455.1 L308.8,450.6 L300.2,454.3 L291.7,455.5" stroke="#55AF19" stroke-width="3.1" stroke-dasharray="3.2 2.4" stroke-dashoffset="0.6"/>
<path d="M281.4,419.8 L289.4,419.4 L297.4,420.7 L305.4,420.8 L313.4,419.6 L316.5,430.3 L299.0,424.8 L281.5,419.6 L282.2,421.9 L291.5,426.2 L300.7,428.3 L309.9,430.2 L319.1,433.0 L318.3,431.4 L299.8,432.5 L281.3,436.0 L280.8,436.6 L289.6,437.6 L298.4,439.6 L307.2,442.0 L316.0,442.1 L317.6,439.3 L310.4,443.1 L303.2,440.5 L296.0,440.5 L288.8,441.2 L281.4,444.7 L290.4,445.3 L299.3,449.3 L308.3,449.6 L317.2,448.1 L308.8,453.6 L302.7,453.2 L296.5,452.0 L290.3,451.0" stroke="#55AF19" stroke-width="3.1" stroke-dasharray="3.1 2.9" stroke-dashoffset="8.1"/>
</g>
<circle cx="320.7" cy="297.0" r="5.6" fill="#000"/>
<circle cx="236.3" cy="297.0" r="5.6" fill="#000"/>
<circle cx="278.5" cy="63.9" r="5.6" fill="#000"/>
<circle cx="151.9" cy="297.0" r="5.6" fill="#000"/>
<circle cx="278.5" cy="436.8" r="5.6" fill="#000"/>
<g stroke="#0d0d0d" stroke-width="1.3" fill="none"><rect x="67.5" y="17.3" width="444.0" height="466.1"/>
<line x1="278.5" y1="483.4" x2="278.5" y2="478.4"/><line x1="278.5" y1="17.3" x2="278.5" y2="22.3"/>
<line x1="489.5" y1="483.4" x2="489.5" y2="478.4"/><line x1="489.5" y1="17.3" x2="489.5" y2="22.3"/>
<line x1="67.5" y1="436.8" x2="72.5" y2="436.8"/><line x1="511.5" y1="436.8" x2="506.5" y2="436.8"/>
<line x1="67.5" y1="390.2" x2="72.5" y2="390.2"/><line x1="511.5" y1="390.2" x2="506.5" y2="390.2"/>
<line x1="67.5" y1="343.6" x2="72.5" y2="343.6"/><line x1="511.5" y1="343.6" x2="506.5" y2="343.6"/>
<line x1="67.5" y1="297.0" x2="72.5" y2="297.0"/><line x1="511.5" y1="297.0" x2="506.5" y2="297.0"/>
<line x1="67.5" y1="250.4" x2="72.5" y2="250.4"/><line x1="511.5" y1="250.4" x2="506.5" y2="250.4"/>
<line x1="67.5" y1="203.7" x2="72.5" y2="203.7"/><line x1="511.5" y1="203.7" x2="506.5" y2="203.7"/>
<line x1="67.5" y1="157.1" x2="72.5" y2="157.1"/><line x1="511.5" y1="157.1" x2="506.5" y2="157.1"/>
<line x1="67.5" y1="110.5" x2="72.5" y2="110.5"/><line x1="511.5" y1="110.5" x2="506.5" y2="110.5"/>
<line x1="67.5" y1="63.9" x2="72.5" y2="63.9"/><line x1="511.5" y1="63.9" x2="506.5" y2="63.9"/>
</g>
<text class="tk" x="67.5" y="507.8" text-anchor="middle">5</text>
<text class="tk" x="278.5" y="507.8" text-anchor="middle">10</text>
<text class="tk" x="489.5" y="507.8" text-anchor="middle">15</text>
<text class="tk" x="60" y="488.2" text-anchor="end">4</text>
<text class="tk" transform="translate(49.6,488.2) scale(1.28,1)" text-anchor="end">−</text>
<text class="tk" x="60" y="441.6" text-anchor="end">3</text>
<text class="tk" transform="translate(49.6,441.6) scale(1.28,1)" text-anchor="end">−</text>
<text class="tk" x="60" y="395.0" text-anchor="end">2</text>
<text class="tk" transform="translate(49.6,395.0) scale(1.28,1)" text-anchor="end">−</text>
<text class="tk" x="60" y="348.4" text-anchor="end">1</text>
<text class="tk" transform="translate(49.6,348.4) scale(1.28,1)" text-anchor="end">−</text>
<text class="tk" x="60" y="301.8" text-anchor="end">0</text>
<text class="tk" x="60" y="255.2" text-anchor="end">1</text>
<text class="tk" x="60" y="208.5" text-anchor="end">2</text>
<text class="tk" x="60" y="161.9" text-anchor="end">3</text>
<text class="tk" x="60" y="115.3" text-anchor="end">4</text>
<text class="tk" x="60" y="68.7" text-anchor="end">5</text>
<text class="tk" x="60" y="22.1" text-anchor="end">6</text>
<text class="lb" x="289" y="534.3" text-anchor="middle">Surge [m]</text>
<text class="lb" transform="translate(23.3,251) rotate(-90)" text-anchor="middle">Sway [m]</text>
<rect x="367.3" y="28.8" width="132.6" height="125.4" fill="#fff" stroke="#151515" stroke-width="1.25"/>
<line x1="372.2" y1="43.4" x2="417.8" y2="43.4" stroke="#0A76C8" stroke-width="1.4"/>
<line x1="372.2" y1="67.6" x2="417.8" y2="67.6" stroke="#F9500A" stroke-width="2.9"/>
<path d="M372.2,92.0 h14.5 m3.4,0 h15.3 m3,0 h9.4" stroke="#FFAF0A" stroke-width="3.2" fill="none"/>
<path d="M372.2,116.4 h14.6 m9.4,0 h9.2 m8.8,0 h3.6" stroke="#8C1496" stroke-width="3.2" fill="none"/>
<path d="M372.2,140.7 h3.1 m5.8,0 h3.1 m2.9,0 h3.1 m2.9,0 h3.1 m2.9,0 h3.1 m2.9,0 h3.1 m2.9,0 h3.1 m2.9,0 h0.9" stroke="#55AF19" stroke-width="3.2" fill="none"/>
<text class="lg" x="422.3" y="47.4">Target 1</text>
<text class="lg" x="422.3" y="71.6">Target 2</text>
<text class="lg" x="422.3" y="96.0">Target 3</text>
<text class="lg" x="422.3" y="120.4">Target 4</text>
<text class="lg" x="422.3" y="144.7">Target 5</text>
</svg></body></html>
